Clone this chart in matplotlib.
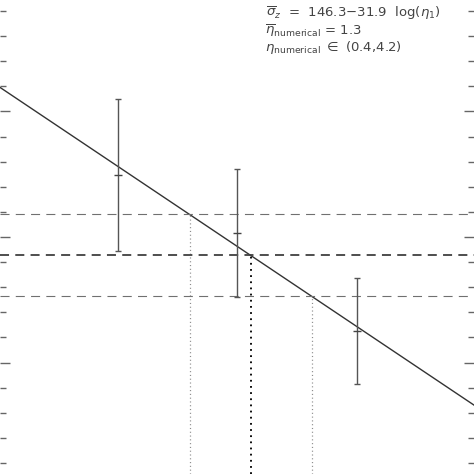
import numpy as np
import matplotlib
matplotlib.use('Agg')
import matplotlib.pyplot as plt
from matplotlib.ticker import MultipleLocator

# fitted relation sigma = a + b*log10(eta)
a_fit, b_fit = 146.3, -31.9
eta_num = 1.3
eta_rng = (0.4, 4.2)

# measured points with error bars
eta_pts = [0.1, 1.0, 10.0]
sigma_pts = [174.7, 151.5, 112.5]
sigma_err = [30.1, 25.5, 21.0]

plt.rcParams['mathtext.fontset'] = 'dejavusans'

fig = plt.figure(figsize=(4.74, 4.74), dpi=100)
ax = fig.add_axes([0, 0, 1, 1])
ax.set_xscale('log')
xmin, xmax = 10**-1.984, 10**1.983
ymin, ymax = 55.6, 244.4
ax.set_xlim(xmin, xmax)
ax.set_ylim(ymin, ymax)

fit = lambda e: a_fit + b_fit*np.log10(e)

eta_line = np.logspace(np.log10(xmin), np.log10(xmax), 50)
ax.plot(eta_line, fit(eta_line), color='#333333', lw=1.0)

# horizontal dashed + vertical dotted at eta range and best value
for e, lw, cor_h, cor_v in [(eta_rng[0], 0.8, '#707070', '#8c8c8c'),
                            (eta_num, 1.3, '#404040', '#111111'),
                            (eta_rng[1], 0.8, '#707070', '#8c8c8c')]:
    s = fit(e)
    ax.axhline(s, color=cor_h, lw=lw, dashes=(6.5/lw, 4.5/lw))
    ax.plot([e, e], [ymin, s], color=cor_v, lw=lw*1.1, linestyle=(0, (0.9, 2.2)))

ax.errorbar(eta_pts, sigma_pts, yerr=sigma_err, fmt='_', ms=6, mew=1.0,
            color='#444444', ecolor='#555555', elinewidth=1.0, capsize=2.0,
            capthick=0.9)

ax.text(0.561, 0.965, r'$\overline{\sigma}_z$  =  146.3$-$31.9  log($\eta_1$)',
        transform=ax.transAxes, fontsize=9.5, color='#444444', va='baseline')
ax.text(0.559, 0.928, r'$\overline{\eta}_{\rm numerical}$ = 1.3',
        transform=ax.transAxes, fontsize=9.5, color='#444444', va='baseline')
ax.text(0.559, 0.893, r'$\eta_{\rm numerical}$ $\in$ (0.4,4.2)',
        transform=ax.transAxes, fontsize=9.5, color='#444444', va='baseline')

for sp in ax.spines.values():
    sp.set_visible(False)
ax.xaxis.set_visible(False)
ax.yaxis.set_major_locator(MultipleLocator(50))
ax.yaxis.set_minor_locator(MultipleLocator(10))
ax.tick_params(axis='y', which='both', direction='in', left=True, right=True,
               labelleft=False, labelright=False, color='#666666', width=1.0)
ax.tick_params(axis='y', which='major', length=7.0)
ax.tick_params(axis='y', which='minor', length=4.0)

fig.savefig('out.png', dpi=100)
